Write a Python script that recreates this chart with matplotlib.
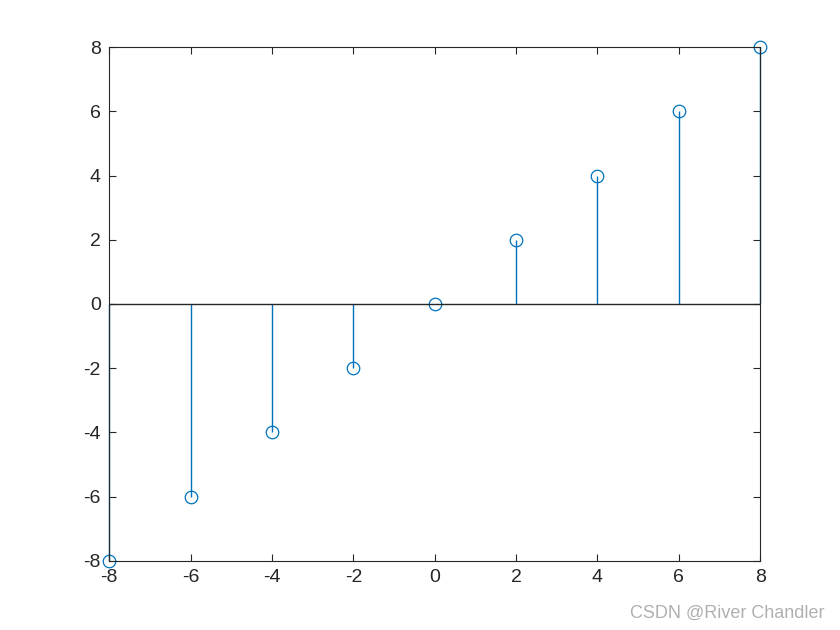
import numpy as np
import matplotlib
matplotlib.use('Agg')
import matplotlib.pyplot as plt

# stem data, n = -8:2:8, y = n
n = [-8, -6, -4, -2, 0, 2, 4, 6, 8]
y = [-8, -6, -4, -2, 0, 2, 4, 6, 8]
ticks = [-8, -6, -4, -2, 0, 2, 4, 6, 8]

plt.rcParams['font.family'] = ['Liberation Sans', 'DejaVu Sans']
plt.rcParams['axes.unicode_minus'] = False
blue = '#0072BD'

fig = plt.figure(figsize=(8.4, 6.3), dpi=100)
ax = fig.add_axes([0.13, 0.11, 0.775, 0.815])

ml, sl, bl = ax.stem(n, y, basefmt='-')
plt.setp(sl, color=blue, linewidth=1.0)
plt.setp(ml, color=blue, marker='o', markerfacecolor='none', markersize=9, markeredgewidth=0.9)
plt.setp(bl, color='#262626', linewidth=1.0)
ml.set_clip_on(False)
sl.set_clip_on(False)

ax.set_xlim(-8, 8)
ax.set_ylim(-8, 8)
ax.set_xticks(ticks)
ax.set_yticks(ticks)
ax.tick_params(direction='in', length=5, width=0.8, labelsize=14, colors='#262626',
               top=True, right=True, pad=6)
for s in ax.spines.values():
    s.set_color('#262626')
    s.set_linewidth(0.8)

fig.text(0.982, 0.027, 'CSDN @River Chandler', ha='right', va='center',
         fontsize=13, color='#b0b0b0')

fig.savefig('out.png', dpi=100)
